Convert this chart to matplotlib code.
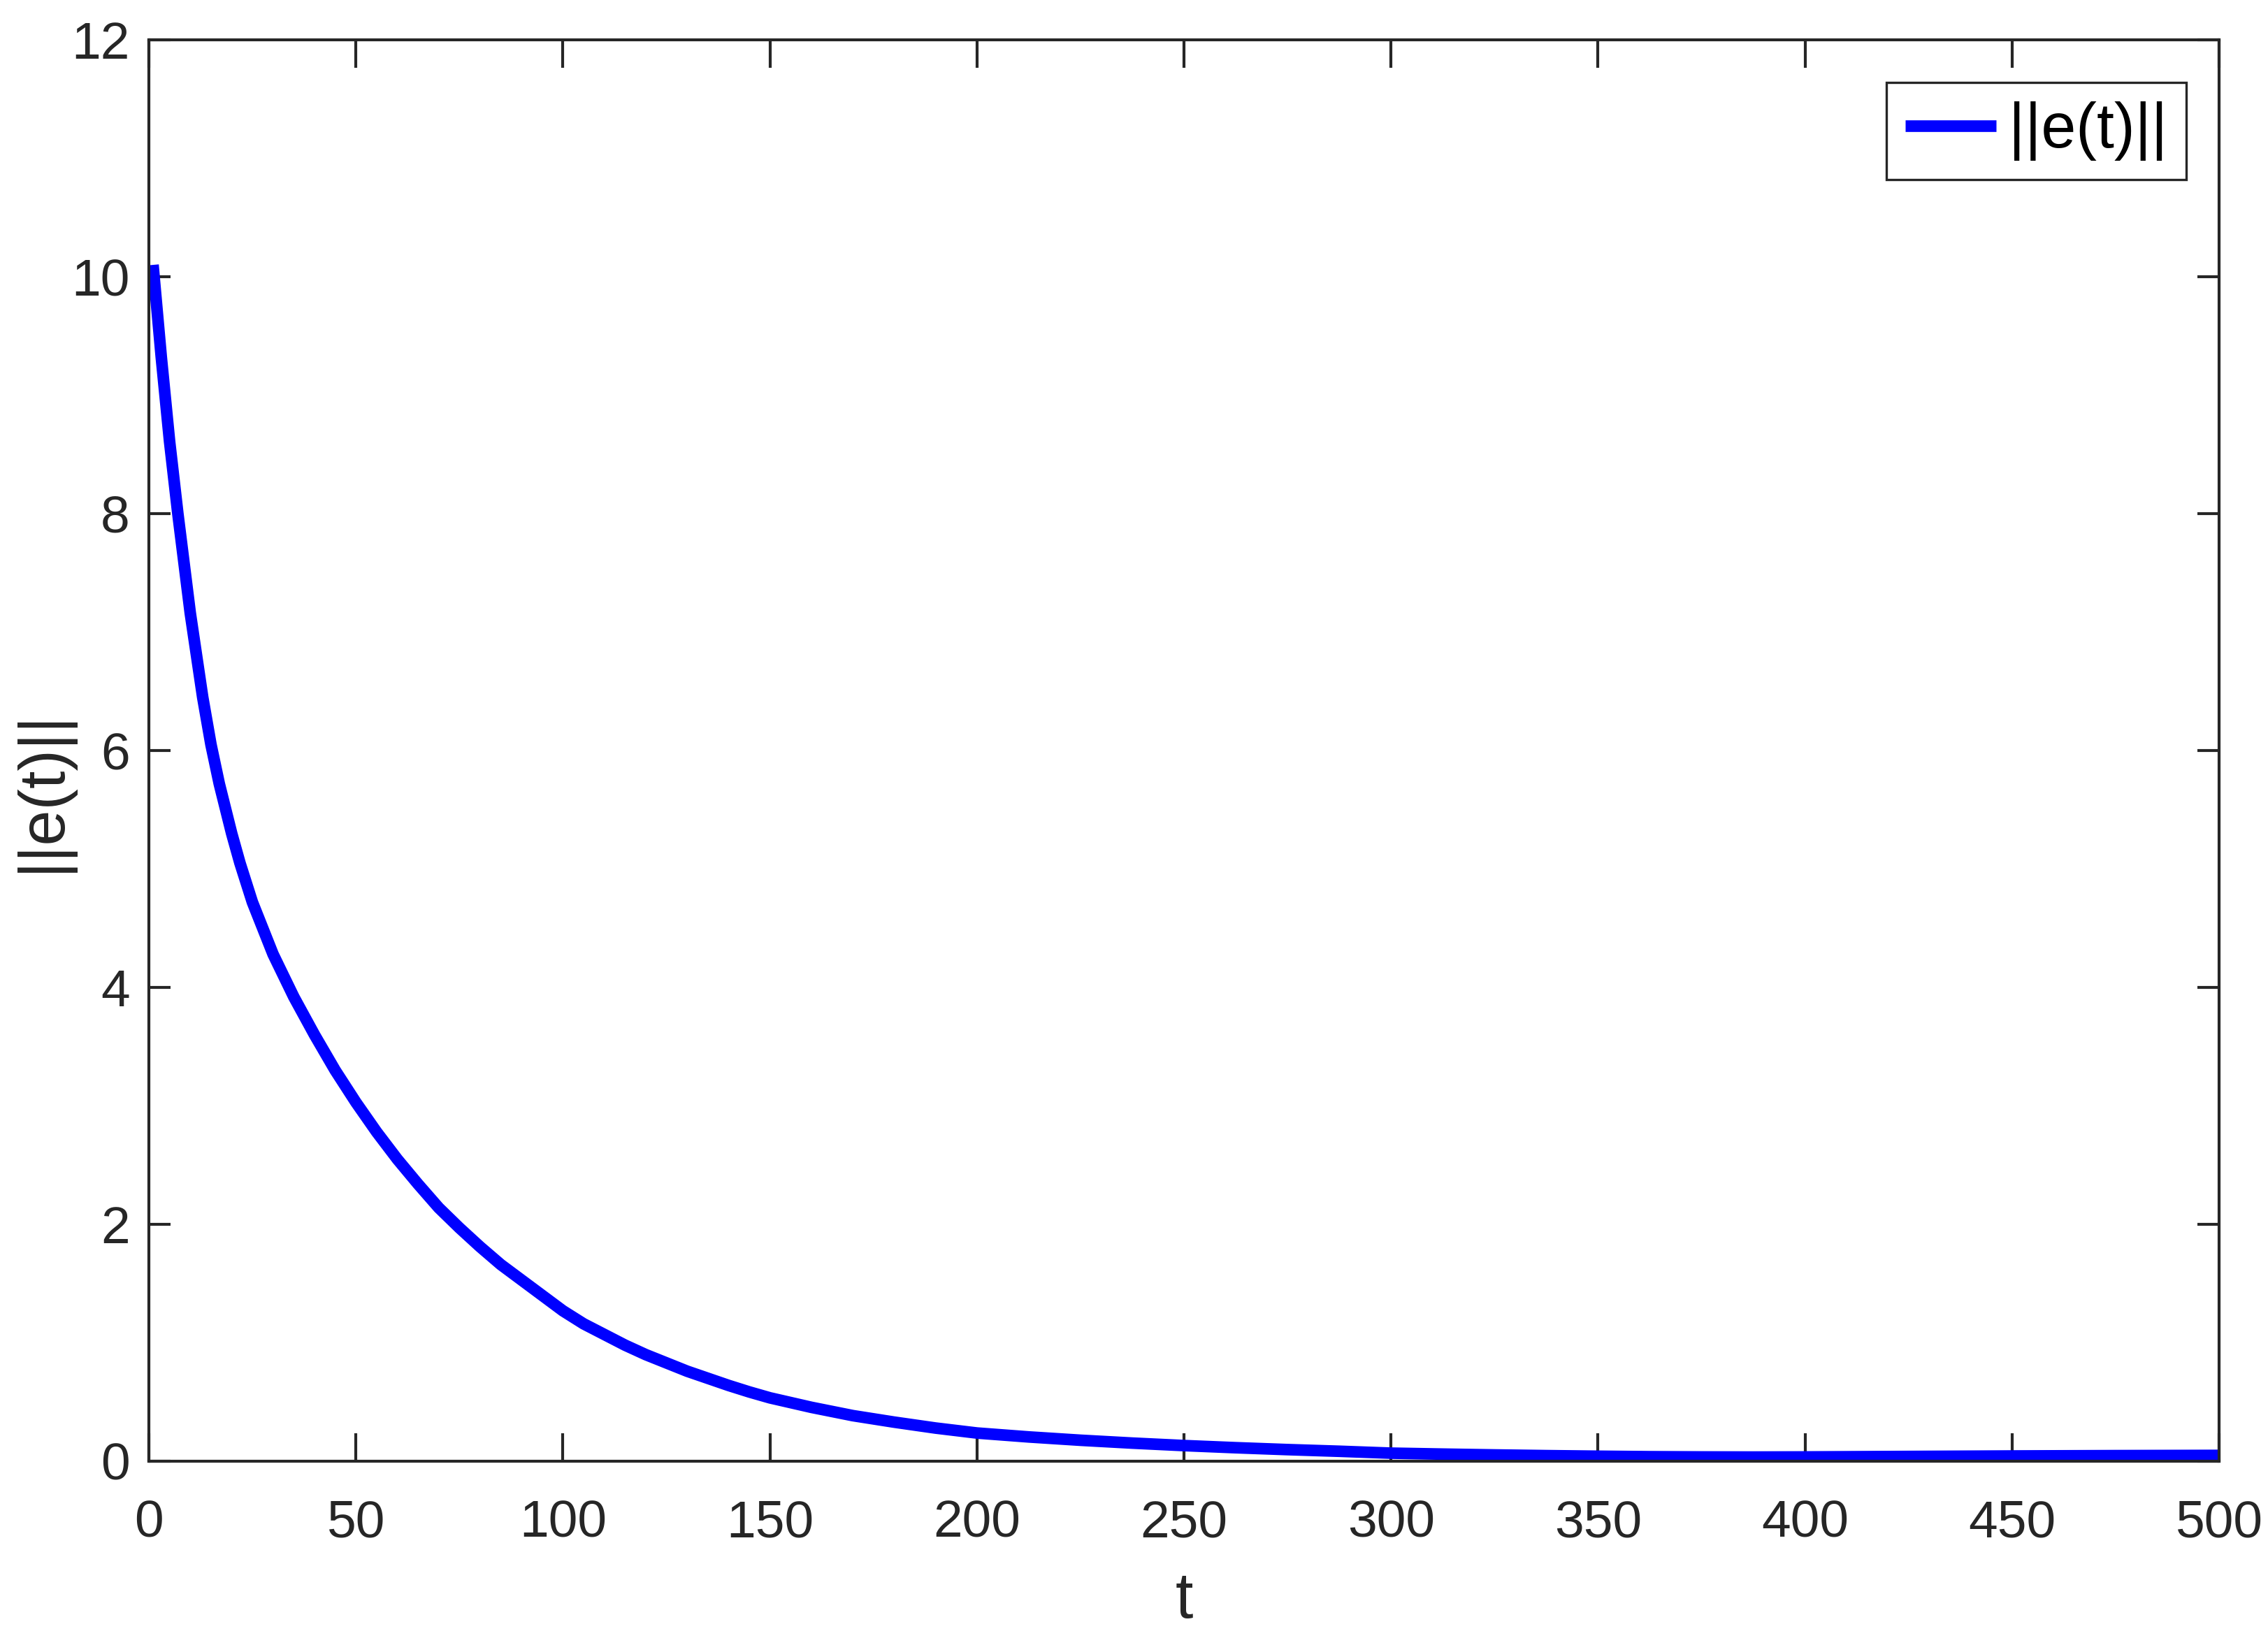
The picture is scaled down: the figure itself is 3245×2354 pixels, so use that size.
import matplotlib
matplotlib.use("Agg")
import matplotlib.pyplot as plt

plt.rcParams["font.family"] = ["Liberation Sans", "DejaVu Sans"]

# error norm
t = [1, 3, 5, 7, 10, 13, 15, 17, 20, 22, 25, 30, 35, 40, 45, 50, 55, 60, 65,
     70, 75, 80, 85, 90, 95, 100, 105, 110, 115, 120, 125, 130, 135, 140,
     145, 150, 160, 170, 180, 190, 200, 212.5, 225, 237.5, 250, 262.5, 275,
     287.5, 300, 312.5, 325, 337.5, 350, 362.5, 375, 387.5, 400, 425, 450,
     475, 500]
e_norm = [10.1, 9.32, 8.61, 8.0, 7.16, 6.45, 6.05, 5.72, 5.3, 5.05, 4.72,
          4.28, 3.92, 3.6, 3.3, 3.03, 2.78, 2.55, 2.34, 2.14, 1.97, 1.81,
          1.66, 1.53, 1.40, 1.27, 1.16, 1.07, 0.98, 0.9, 0.83, 0.76, 0.70,
          0.64, 0.585, 0.535, 0.455, 0.385, 0.33, 0.28, 0.238, 0.205, 0.177,
          0.153, 0.132, 0.114, 0.098, 0.084, 0.068, 0.06, 0.053, 0.047,
          0.042, 0.038, 0.036, 0.035, 0.036, 0.04, 0.044, 0.047, 0.049]

x_ticks = [0, 50, 100, 150, 200, 250, 300, 350, 400, 450, 500]
y_ticks = [0, 2, 4, 6, 8, 10, 12]

AX_COL = "#262626"

fig = plt.figure(figsize=(3245 / 300, 2354 / 300), dpi=300)
ax = fig.add_axes([213 / 3245, 1 - 2091 / 2354, (3175 - 213) / 3245, (2091 - 57) / 2354])

ax.plot(t, e_norm, color="#0000ff", lw=4.0, label="||e(t)||",
        solid_capstyle="butt", solid_joinstyle="round")

ax.set_xlim(0, 500)
ax.set_ylim(0, 12)
ax.set_xticks(x_ticks)
ax.set_yticks(y_ticks)

for s in ax.spines.values():
    s.set_color(AX_COL)
    s.set_linewidth(1.0)

ax.tick_params(axis="both", direction="in", top=True, right=True,
               colors=AX_COL, width=1.0, labelsize=18)
ax.tick_params(axis="x", length=9.6, pad=13)
ax.tick_params(axis="y", length=7.4, pad=6.5)

ax.set_xlabel("t", fontsize=22, color=AX_COL, labelpad=8)
ax.set_ylabel("||e(t)||", fontsize=22, color=AX_COL)
ax.yaxis.set_label_coords(-0.037, 0.4715)

leg = ax.legend(loc="upper right", bbox_to_anchor=(0.984, 0.970),
                borderaxespad=0, fontsize=21.5, handlelength=1.45,
                handletextpad=0.2, borderpad=0.3, fancybox=False,
                framealpha=1, edgecolor=AX_COL)
leg.get_frame().set_linewidth(0.8)

fig.patch.set_facecolor("white")
fig.savefig("out.png", dpi=300, facecolor="white")
